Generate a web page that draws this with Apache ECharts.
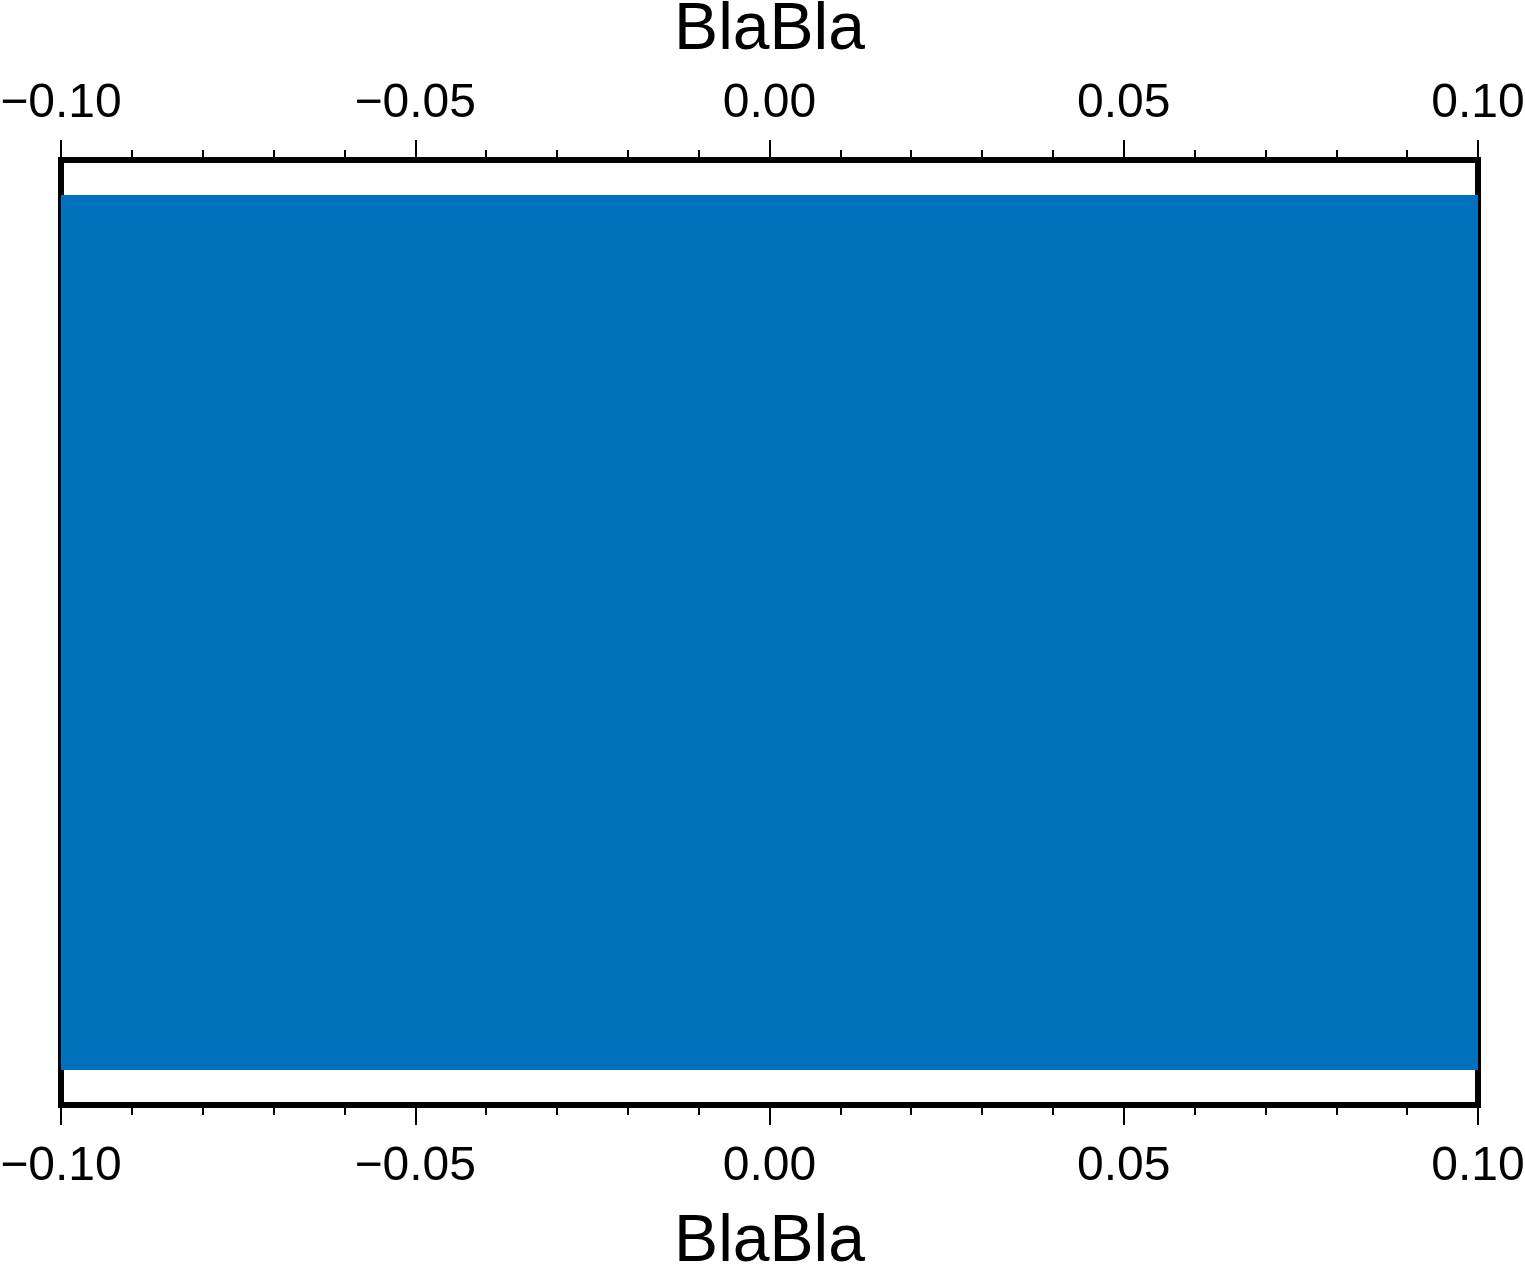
<!DOCTYPE html>
<html>
<head>
<meta charset="utf-8">
<title>BlaBla</title>
<script src="https://cdn.jsdelivr.net/npm/echarts@6/dist/echarts.min.js"></script>
<style>
  html, body { margin: 0; padding: 0; background: #fff; }
  #chart { width: 1525px; height: 1266px; }
</style>
</head>
<body>
<div id="chart"></div>
<script>
// histogram bins: left edge, right edge, height
const BIN_LEFT = [-0.1];
const BIN_RIGHT = [0.1];
const BIN_COUNT = [1];

const X_MIN = -0.1;
const X_MAX = 0.1;
const X_STEP = 0.05;
const Y_MIN = -0.04;
const Y_MAX = 1.04;
const AXIS_TITLE = 'BlaBla';

const FONT = '"Liberation Sans", Arial, sans-serif';
const BAR_COLOR = '#0072bd';

function tickLabel(value) {
  // GMT style uses a real minus sign
  return value.toFixed(2).replace('-', '\u2212');
}

function xAxis(position, margin, nameGap) {
  return {
    type: 'value',
    position: position,
    min: X_MIN,
    max: X_MAX,
    interval: X_STEP,
    name: AXIS_TITLE,
    nameLocation: 'middle',
    nameGap: nameGap,
    nameTextStyle: { fontFamily: FONT, fontSize: 66, color: '#000' },
    axisLine: { show: true, onZero: false, lineStyle: { color: '#000', width: 6 } },
    axisTick: { show: true, length: 20, lineStyle: { color: '#000', width: 2 } },
    minorTick: { show: true, splitNumber: 5, length: 10, lineStyle: { color: '#000', width: 2 } },
    axisLabel: {
      margin: margin,
      fontFamily: FONT,
      fontSize: 48,
      color: '#000',
      formatter: tickLabel
    },
    splitLine: { show: false }
  };
}

const bins = BIN_COUNT.map((c, i) => [BIN_LEFT[i], BIN_RIGHT[i], c]);

const chart = echarts.init(document.getElementById('chart'), null, { renderer: 'canvas' });

chart.setOption({
  animation: false,
  backgroundColor: '#fff',
  grid: {
    left: 61,
    right: 47,
    top: 160,
    bottom: 161,
    outerBoundsMode: 'none',
    containLabel: false,
    show: true,
    borderColor: '#000',
    borderWidth: 6,
    backgroundColor: 'transparent'
  },
  xAxis: [
    xAxis('bottom', 38, 105),
    xAxis('top', 32, 96)
  ],
  yAxis: {
    type: 'value',
    min: Y_MIN,
    max: Y_MAX,
    axisLine: { show: false },
    axisTick: { show: false },
    axisLabel: { show: false },
    splitLine: { show: false }
  },
  series: [{
    type: 'custom',
    xAxisIndex: 0,
    data: bins,
    encode: { x: [0, 1], y: 2 },
    renderItem: function(params, api) {
      let p0 = api.coord([api.value(0), api.value(2)]);
      let p1 = api.coord([api.value(1), 0]);

      return {
        type: 'rect',
        shape: { x: p0[0], y: p0[1], width: p1[0] - p0[0], height: p1[1] - p0[1] },
        style: { fill: BAR_COLOR },
        z2: -1
      };
    }
  }]
});
</script>
</body>
</html>
